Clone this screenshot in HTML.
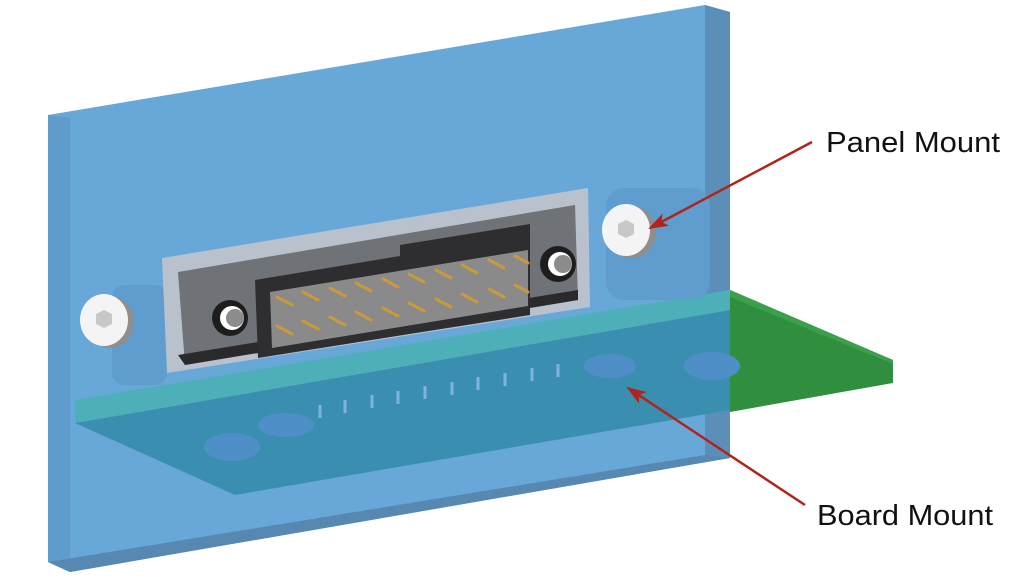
<!DOCTYPE html>
<html><head><style>
html,body{margin:0;padding:0;background:#fff;width:1024px;height:576px;overflow:hidden}
svg{display:block}
</style></head><body>
<svg width="1024" height="576" viewBox="0 0 1024 576" xmlns="http://www.w3.org/2000/svg">
<defs>
<marker id="ah" markerWidth="20" markerHeight="14" refX="18" refY="7" orient="auto" markerUnits="userSpaceOnUse">
<path d="M0,0 L20,7 L0,14 L5,7 Z" fill="#b0241c"/></marker>
</defs>
<!-- panel -->
<polygon points="48,115 705,5 730,12 730,458 70,572 48,562" fill="#68a8d8"/>
<polygon points="705,5 730,12 730,458 705,462" fill="#5b8fb8"/>
<polygon points="48,115 70,118 70,572 48,562" fill="#5f9ccb"/>
<polygon points="48,562 705,455 730,458 70,572" fill="#5688b2"/>
<!-- board under panel -->
<polygon points="75,423 730,310 730,410 235,495" fill="#3a8fb0"/>
<polygon points="75,400 730,290 730,310 75,423" fill="#4db0b8"/>
<!-- green board outside -->
<polygon points="730,290 893,360 893,383 730,412" fill="#2f8f3e"/>
<polygon points="730,290 893,360 893,364 730,297" fill="#3aa04a"/>
<!-- mount blocks -->
<rect x="112" y="285" width="55" height="100" rx="12" fill="#5e9dcd"/>
<rect x="606" y="188" width="104" height="112" rx="18" fill="#5e9dcd"/>
<!-- connector -->
<polygon points="162,258 588,188 590,307 167,373" fill="#b9c2cc"/>
<polygon points="178,272 575,205 578,300 185,365" fill="#6f7276"/>
<polygon points="178,355 578,290 578,300 185,365" fill="#2a2a2c"/>
<polygon points="255,280 400,256 400,245 530,224 530,315 258,358" fill="#2e2e30"/>
<polygon points="270,292 528,250 528,306 272,348" fill="#8a8a8a"/>
<circle cx="230" cy="318" r="18" fill="#1d1d1f"/>
<circle cx="232" cy="318" r="12" fill="#fff"/>
<circle cx="235" cy="318" r="9" fill="#8c8c8c"/>
<circle cx="558" cy="264" r="18" fill="#1d1d1f"/>
<circle cx="560" cy="264" r="12" fill="#fff"/>
<circle cx="563" cy="264" r="9" fill="#8c8c8c"/>
<g id="r1" stroke="#c99a3c" stroke-width="3" stroke-linecap="round">
<line x1="277" y1="297" x2="292" y2="305"/><line x1="303" y1="292" x2="318" y2="300"/><line x1="330" y1="288" x2="345" y2="296"/><line x1="356" y1="283" x2="371" y2="291"/><line x1="383" y1="279" x2="398" y2="287"/><line x1="409" y1="274" x2="424" y2="282"/><line x1="436" y1="270" x2="451" y2="278"/><line x1="462" y1="265" x2="477" y2="273"/><line x1="489" y1="260" x2="504" y2="268"/><line x1="515" y1="256" x2="528" y2="263"/>
</g>
<use href="#r1" y="29"/>
<!-- board parts -->
<g fill="#4f8fc8">
<ellipse cx="286" cy="425" rx="28" ry="12"/>
<ellipse cx="610" cy="366" rx="26" ry="12"/>
<ellipse cx="232" cy="447" rx="28" ry="14"/>
<ellipse cx="712" cy="366" rx="28" ry="14"/>
</g>
<g stroke="#7fb3df" stroke-width="3">
<line x1="320" y1="405" x2="320" y2="418"/><line x1="345" y1="400" x2="345" y2="413"/><line x1="372" y1="395" x2="372" y2="408"/><line x1="398" y1="391" x2="398" y2="404"/><line x1="425" y1="386" x2="425" y2="399"/><line x1="452" y1="382" x2="452" y2="395"/><line x1="478" y1="377" x2="478" y2="390"/><line x1="505" y1="373" x2="505" y2="386"/><line x1="532" y1="368" x2="532" y2="381"/><line x1="558" y1="364" x2="558" y2="377"/>
</g>
<!-- screws -->
<ellipse cx="110" cy="322" rx="24" ry="26" fill="#8e8e8e"/>
<ellipse cx="104" cy="320" rx="24" ry="26" fill="#f4f4f4"/>
<polygon points="96,314 104,310 112,314 112,324 104,328 96,324" fill="#c8c8c8"/>
<ellipse cx="632" cy="232" rx="24" ry="26" fill="#8e8e8e"/>
<ellipse cx="626" cy="230" rx="24" ry="26" fill="#f4f4f4"/>
<polygon points="618,224 626,220 634,224 634,234 626,238 618,234" fill="#c8c8c8"/>
<!-- arrows -->
<line x1="812" y1="142" x2="650" y2="228" stroke="#b0241c" stroke-width="2.5" marker-end="url(#ah)"/>
<line x1="805" y1="505" x2="628" y2="388" stroke="#b0241c" stroke-width="2.5" marker-end="url(#ah)"/>
<text x="826" y="152" font-family="Liberation Sans, sans-serif" font-size="29" textLength="174" lengthAdjust="spacingAndGlyphs" fill="#111">Panel Mount</text>
<text x="817" y="525" font-family="Liberation Sans, sans-serif" font-size="29" textLength="176" lengthAdjust="spacingAndGlyphs" fill="#111">Board Mount</text>
</svg>
</body></html>
